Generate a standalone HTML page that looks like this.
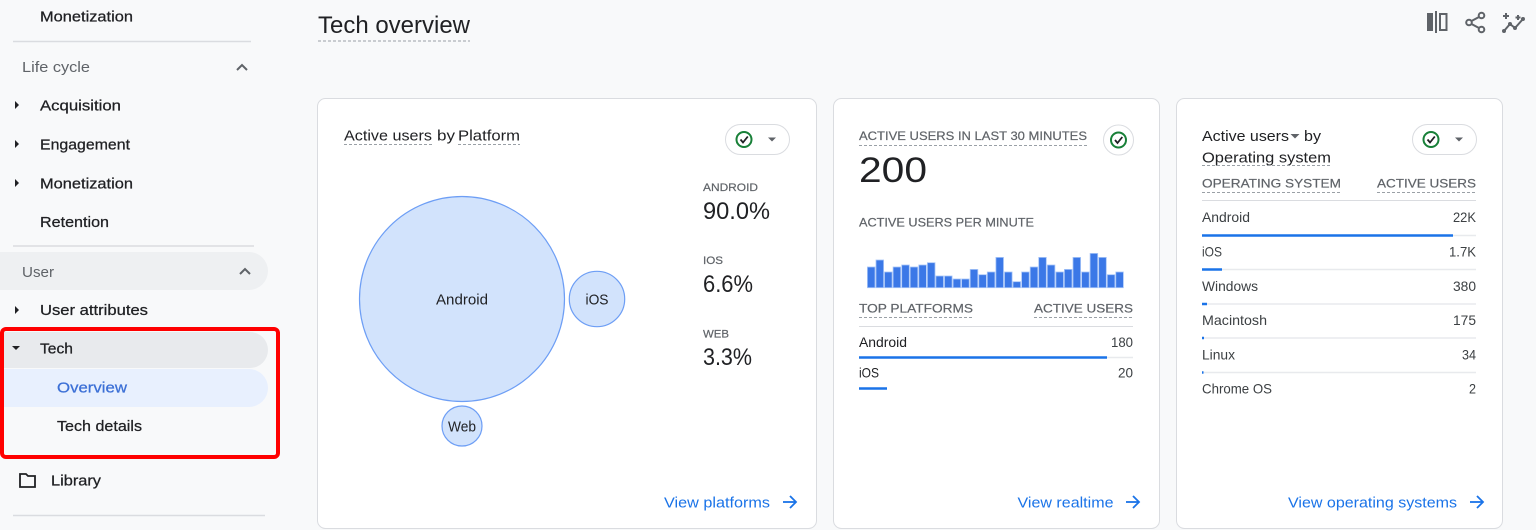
<!DOCTYPE html>
<html><head><meta charset="utf-8"><style>
html,body{margin:0;padding:0;background:#f8f9fa;}
svg{display:block;font-family:"Liberation Sans",Arial,sans-serif;}
.sb{font-size:15px;fill:#202124;stroke:#202124;stroke-width:0.25;}
.gr{fill:#5f6368;stroke:none;}
.cap{font-size:12px;fill:#5f6368;stroke:#5f6368;stroke-width:0.2;}
.dash{stroke:#9aa0a6;stroke-width:1;stroke-dasharray:3 2;fill:none;}
.lnk{font-size:15px;fill:#1a73e8;}
.row{font-size:14px;fill:#3c4043;}
</style></head><body>
<svg width="1536" height="530" viewBox="0 0 1536 530" xmlns="http://www.w3.org/2000/svg">
<rect width="1536" height="530" fill="#f8f9fa"/>

<!-- Sidebar -->
<text class="sb" x="40" y="21.5" textLength="93" lengthAdjust="spacingAndGlyphs">Monetization</text>
<line x1="13" y1="41.5" x2="251" y2="41.5" stroke="#dadce0" stroke-width="1.5"/>
<text class="sb gr" x="22" y="72" textLength="68" lengthAdjust="spacingAndGlyphs" style="stroke:none">Life cycle</text>
<polyline points="237,70 242,65 247,70" fill="none" stroke="#5f6368" stroke-width="2"/>
<polygon points="15,101 19,105 15,109" fill="#202124"/>
<text class="sb" x="40" y="110.5" textLength="81" lengthAdjust="spacingAndGlyphs">Acquisition</text>
<polygon points="15,140 19,144 15,148" fill="#202124"/>
<text class="sb" x="40" y="149.5" textLength="90" lengthAdjust="spacingAndGlyphs">Engagement</text>
<polygon points="15,179 19,183 15,187" fill="#202124"/>
<text class="sb" x="40" y="188.5" textLength="93" lengthAdjust="spacingAndGlyphs">Monetization</text>
<text class="sb" x="40" y="227" textLength="69" lengthAdjust="spacingAndGlyphs">Retention</text>
<line x1="13" y1="246" x2="254" y2="246" stroke="#dadce0" stroke-width="1.5"/>
<path d="M0 252 H249 A19 19 0 0 1 249 290 H0 Z" fill="#eef0f2"/>
<text class="sb gr" x="22" y="277" textLength="32" lengthAdjust="spacingAndGlyphs" style="stroke:none">User</text>
<polyline points="240,274 245,269 250,274" fill="none" stroke="#5f6368" stroke-width="2"/>
<polygon points="15,306 19,310 15,314" fill="#202124"/>
<text class="sb" x="40" y="315" textLength="108" lengthAdjust="spacingAndGlyphs">User attributes</text>
<path d="M0 332 H250 A18 18 0 0 1 250 368 H0 Z" fill="#e8eaed"/>
<polygon points="12,346 20,346 16,350" fill="#202124"/>
<text class="sb" x="40" y="353.5" textLength="33" lengthAdjust="spacingAndGlyphs">Tech</text>
<path d="M0 369 H249 A19 19 0 0 1 249 407 H0 Z" fill="#e8f0fe"/>
<text class="sb" x="57" y="392.5" textLength="70" lengthAdjust="spacingAndGlyphs" style="fill:#3b6fd6;stroke:#3b6fd6">Overview</text>
<text class="sb" x="57" y="431" textLength="85" lengthAdjust="spacingAndGlyphs">Tech details</text>
<rect x="2" y="329" width="276" height="128" rx="4" fill="none" stroke="#ff0000" stroke-width="4"/>
<path d="M20 474 H26 L28 476 H35 V487 H20 Z" fill="none" stroke="#202124" stroke-width="1.8"/>
<text class="sb" x="51" y="485.5" textLength="50" lengthAdjust="spacingAndGlyphs">Library</text>
<line x1="13" y1="515.5" x2="265" y2="515.5" stroke="#dadce0" stroke-width="1.5"/>

<!-- Title -->
<text x="318" y="33" font-size="24" fill="#202124" textLength="152" lengthAdjust="spacingAndGlyphs">Tech overview</text>
<line class="dash" x1="318" y1="41" x2="470" y2="41" stroke-width="2"/>

<!-- Header icons -->
<rect x="1427" y="13" width="6" height="18" fill="#5f6368"/>
<line x1="1436" y1="11" x2="1436" y2="33" stroke="#5f6368" stroke-width="2"/>
<rect x="1440" y="14" width="6.5" height="16" fill="none" stroke="#5f6368" stroke-width="2"/>
<g stroke="#5f6368" stroke-width="2" fill="none">
<circle cx="1481.5" cy="15.5" r="2.8"/><circle cx="1469" cy="22.5" r="2.8"/><circle cx="1481.5" cy="29.5" r="2.8"/>
<line x1="1471.5" y1="21" x2="1479" y2="17"/><line x1="1471.5" y1="24" x2="1479" y2="28"/>
<polyline points="1504,31 1510,24 1515,28 1523,19"/>
<line x1="1506" y1="13" x2="1506" y2="19"/><line x1="1503" y1="16" x2="1509" y2="16"/>
<line x1="1518" y1="15" x2="1518" y2="20"/><line x1="1515.5" y1="17.5" x2="1520.5" y2="17.5"/>
</g>
<g fill="#5f6368"><circle cx="1504" cy="31" r="2"/><circle cx="1510" cy="24" r="2"/><circle cx="1515" cy="28" r="2"/><circle cx="1523" cy="19" r="2"/></g>

<!-- Cards -->
<rect x="317.5" y="98.5" width="499" height="430" rx="8" fill="#fff" stroke="#dadce0"/>
<rect x="833.5" y="98.5" width="326" height="430" rx="8" fill="#fff" stroke="#dadce0"/>
<rect x="1176.5" y="98.5" width="326" height="430" rx="8" fill="#fff" stroke="#dadce0"/>

<!-- Card 1 -->
<text x="344" y="140.5" font-size="15" fill="#202124" textLength="88" lengthAdjust="spacingAndGlyphs">Active users</text>
<text x="437" y="140.5" font-size="15" fill="#202124" textLength="18" lengthAdjust="spacingAndGlyphs">by</text>
<text x="458" y="140.5" font-size="15" fill="#202124" textLength="62" lengthAdjust="spacingAndGlyphs">Platform</text>
<line class="dash" x1="344" y1="144.5" x2="432" y2="144.5"/>
<line class="dash" x1="458" y1="144.5" x2="520" y2="144.5"/>
<rect x="725.5" y="124.5" width="64" height="30" rx="15" fill="#fff" stroke="#dadce0"/>
<circle cx="744" cy="139.5" r="7.5" fill="none" stroke="#188038" stroke-width="2"/>
<polyline points="740.5,139.5 743,142.5 747.8,136.5" fill="none" stroke="#202124" stroke-width="1.8"/>
<polygon points="768,137.5 776,137.5 772,141.5" fill="#5f6368"/>

<circle cx="462" cy="299" r="102.5" fill="#d2e3fc" stroke="#6d9ef5" stroke-width="1.2"/>
<circle cx="597" cy="299" r="27.7" fill="#d2e3fc" stroke="#6d9ef5" stroke-width="1.2"/>
<circle cx="462" cy="426" r="20" fill="#d2e3fc" stroke="#6d9ef5" stroke-width="1.2"/>
<text x="462" y="304.5" font-size="15" fill="#202124" text-anchor="middle" textLength="52" lengthAdjust="spacingAndGlyphs">Android</text>
<text x="597" y="304.5" font-size="15" fill="#202124" text-anchor="middle" textLength="23" lengthAdjust="spacingAndGlyphs">iOS</text>
<text x="462" y="431.5" font-size="15" fill="#202124" text-anchor="middle" textLength="28" lengthAdjust="spacingAndGlyphs">Web</text>

<text class="cap" x="703" y="191" textLength="55" lengthAdjust="spacingAndGlyphs" style="font-size:11px">ANDROID</text>
<text x="703" y="219" font-size="24" fill="#202124" textLength="67" lengthAdjust="spacingAndGlyphs">90.0%</text>
<text class="cap" x="703" y="264" textLength="20" lengthAdjust="spacingAndGlyphs" style="font-size:11px">IOS</text>
<text x="703" y="292" font-size="24" fill="#202124" textLength="50" lengthAdjust="spacingAndGlyphs">6.6%</text>
<text class="cap" x="703" y="337.5" textLength="26" lengthAdjust="spacingAndGlyphs" style="font-size:11px">WEB</text>
<text x="703" y="365" font-size="24" fill="#202124" textLength="49" lengthAdjust="spacingAndGlyphs">3.3%</text>

<text class="lnk" x="664" y="507.5" textLength="106" lengthAdjust="spacingAndGlyphs">View platforms</text>
<g stroke="#1a73e8" stroke-width="1.8" fill="none"><line x1="783" y1="502" x2="796" y2="502"/><polyline points="790,496 796,502 790,508"/></g>

<!-- Card 2 -->
<text class="cap" x="859" y="140" textLength="228" lengthAdjust="spacingAndGlyphs">ACTIVE USERS IN LAST 30 MINUTES</text>
<line class="dash" x1="859" y1="145.5" x2="1087" y2="145.5"/>
<circle cx="1118.5" cy="140" r="15" fill="#fff" stroke="#dadce0"/>
<circle cx="1118.5" cy="140" r="7.5" fill="none" stroke="#188038" stroke-width="2"/>
<polyline points="1115,140 1117.5,143 1122.3,137" fill="none" stroke="#202124" stroke-width="1.8"/>
<text x="859" y="182" font-size="35" fill="#202124" textLength="68" lengthAdjust="spacingAndGlyphs">200</text>
<text class="cap" x="859" y="226.5" textLength="175" lengthAdjust="spacingAndGlyphs">ACTIVE USERS PER MINUTE</text>
<g fill="#3b78e7" stroke="#a9c6f8" stroke-width="0.8">
<rect x="867.4" y="267" width="7.6" height="20.7"/>
<rect x="876.0" y="260" width="7.6" height="27.7"/>
<rect x="884.5" y="272" width="7.6" height="15.7"/>
<rect x="893.1" y="267" width="7.6" height="20.7"/>
<rect x="901.7" y="265" width="7.6" height="22.7"/>
<rect x="910.2" y="267" width="7.6" height="20.7"/>
<rect x="918.8" y="265" width="7.6" height="22.7"/>
<rect x="927.4" y="262.7" width="7.6" height="25"/>
<rect x="935.9" y="276" width="7.6" height="11.7"/>
<rect x="944.5" y="276" width="7.6" height="11.7"/>
<rect x="953.1" y="279" width="7.6" height="8.7"/>
<rect x="961.6" y="279" width="7.6" height="8.7"/>
<rect x="970.2" y="269.4" width="7.6" height="18.3"/>
<rect x="978.8" y="274.7" width="7.6" height="13"/>
<rect x="987.3" y="272" width="7.6" height="15.7"/>
<rect x="995.9" y="257.4" width="7.6" height="30.3"/>
<rect x="1004.5" y="272" width="7.6" height="15.7"/>
<rect x="1013.0" y="281.7" width="7.6" height="6"/>
<rect x="1021.6" y="272" width="7.6" height="15.7"/>
<rect x="1030.2" y="267" width="7.6" height="20.7"/>
<rect x="1038.7" y="257.4" width="7.6" height="30.3"/>
<rect x="1047.3" y="265" width="7.6" height="22.7"/>
<rect x="1055.9" y="272" width="7.6" height="15.7"/>
<rect x="1064.4" y="269.4" width="7.6" height="18.3"/>
<rect x="1073.0" y="257.4" width="7.6" height="30.3"/>
<rect x="1081.6" y="272" width="7.6" height="15.7"/>
<rect x="1090.1" y="253.4" width="7.6" height="34.3"/>
<rect x="1098.7" y="257.4" width="7.6" height="30.3"/>
<rect x="1107.3" y="274.7" width="7.6" height="13"/>
<rect x="1115.8" y="272" width="7.6" height="15.7"/>
</g>
<text class="cap" x="859" y="312.5" textLength="114" lengthAdjust="spacingAndGlyphs">TOP PLATFORMS</text>
<text class="cap" x="1133" y="312.5" text-anchor="end" textLength="99" lengthAdjust="spacingAndGlyphs">ACTIVE USERS</text>
<line class="dash" x1="859" y1="317.5" x2="973" y2="317.5"/>
<line class="dash" x1="1034" y1="317.5" x2="1133" y2="317.5"/>
<line x1="859" y1="326.5" x2="1133" y2="326.5" stroke="#dadce0"/>
<text class="row" x="859" y="347" textLength="48" lengthAdjust="spacingAndGlyphs" style="fill:#202124">Android</text>
<text class="row" x="1133" y="347" text-anchor="end" textLength="22" lengthAdjust="spacingAndGlyphs">180</text>
<line x1="859" y1="357.5" x2="1133" y2="357.5" stroke="#e8eaed" stroke-width="1.5"/>
<line x1="859" y1="357.5" x2="1107" y2="357.5" stroke="#1a73e8" stroke-width="2.5"/>
<text class="row" x="859" y="377.5" textLength="20" lengthAdjust="spacingAndGlyphs" style="fill:#202124">iOS</text>
<text class="row" x="1133" y="377.5" text-anchor="end" textLength="15" lengthAdjust="spacingAndGlyphs">20</text>
<line x1="859" y1="388.5" x2="887" y2="388.5" stroke="#1a73e8" stroke-width="2.5"/>
<text class="lnk" x="1017.5" y="507.5" textLength="96" lengthAdjust="spacingAndGlyphs">View realtime</text>
<g stroke="#1a73e8" stroke-width="1.8" fill="none"><line x1="1126" y1="502" x2="1139" y2="502"/><polyline points="1133,496 1139,502 1133,508"/></g>

<!-- Card 3 -->
<text x="1202" y="141" font-size="15" fill="#202124" textLength="87" lengthAdjust="spacingAndGlyphs">Active users</text>
<polygon points="1290.5,134 1299.5,134 1295,138.5" fill="#5f6368"/>
<text x="1304" y="141" font-size="15" fill="#202124" textLength="17" lengthAdjust="spacingAndGlyphs">by</text>
<text x="1202" y="162.5" font-size="15" fill="#202124" textLength="129" lengthAdjust="spacingAndGlyphs">Operating system</text>
<line class="dash" x1="1202" y1="165.5" x2="1331" y2="165.5"/>
<rect x="1412.5" y="124.5" width="64" height="30" rx="15" fill="#fff" stroke="#dadce0"/>
<circle cx="1431" cy="139.5" r="7.5" fill="none" stroke="#188038" stroke-width="2"/>
<polyline points="1427.5,139.5 1430,142.5 1434.8,136.5" fill="none" stroke="#202124" stroke-width="1.8"/>
<polygon points="1455,137.5 1463,137.5 1459,141.5" fill="#5f6368"/>
<text class="cap" x="1202" y="187.5" textLength="139" lengthAdjust="spacingAndGlyphs">OPERATING SYSTEM</text>
<text class="cap" x="1476" y="187.5" text-anchor="end" textLength="99" lengthAdjust="spacingAndGlyphs">ACTIVE USERS</text>
<line class="dash" x1="1202" y1="192.5" x2="1341" y2="192.5"/>
<line class="dash" x1="1377" y1="192.5" x2="1476" y2="192.5"/>
<line x1="1202" y1="200.5" x2="1476" y2="200.5" stroke="#dadce0"/>

<text class="row" x="1202" y="222" textLength="48" lengthAdjust="spacingAndGlyphs">Android</text>
<text class="row" x="1476" y="222" text-anchor="end" textLength="23" lengthAdjust="spacingAndGlyphs">22K</text>
<line x1="1202" y1="235.5" x2="1476" y2="235.5" stroke="#e8eaed" stroke-width="1.5"/>
<line x1="1202" y1="235.5" x2="1453" y2="235.5" stroke="#1a73e8" stroke-width="2.5"/>

<text class="row" x="1202" y="256.5" textLength="20" lengthAdjust="spacingAndGlyphs">iOS</text>
<text class="row" x="1476" y="256.5" text-anchor="end" textLength="27" lengthAdjust="spacingAndGlyphs">1.7K</text>
<line x1="1202" y1="269.5" x2="1476" y2="269.5" stroke="#e8eaed" stroke-width="1.5"/>
<line x1="1202" y1="269.5" x2="1222" y2="269.5" stroke="#1a73e8" stroke-width="2.5"/>

<text class="row" x="1202" y="291" textLength="56" lengthAdjust="spacingAndGlyphs">Windows</text>
<text class="row" x="1476" y="291" text-anchor="end" textLength="23" lengthAdjust="spacingAndGlyphs">380</text>
<line x1="1202" y1="304" x2="1476" y2="304" stroke="#e8eaed" stroke-width="1.5"/>
<line x1="1202" y1="304" x2="1207" y2="304" stroke="#1a73e8" stroke-width="2.5"/>

<text class="row" x="1202" y="325" textLength="65" lengthAdjust="spacingAndGlyphs">Macintosh</text>
<text class="row" x="1476" y="325" text-anchor="end" textLength="23" lengthAdjust="spacingAndGlyphs">175</text>
<line x1="1202" y1="338" x2="1476" y2="338" stroke="#e8eaed" stroke-width="1.5"/>
<line x1="1202" y1="338" x2="1204" y2="338" stroke="#1a73e8" stroke-width="2.5"/>

<text class="row" x="1202" y="359.5" textLength="33" lengthAdjust="spacingAndGlyphs">Linux</text>
<text class="row" x="1476" y="359.5" text-anchor="end" textLength="14" lengthAdjust="spacingAndGlyphs">34</text>
<line x1="1202" y1="372.5" x2="1476" y2="372.5" stroke="#e8eaed" stroke-width="1.5"/>
<line x1="1202" y1="372.5" x2="1203.5" y2="372.5" stroke="#1a73e8" stroke-width="2.5"/>

<text class="row" x="1202" y="393.5" textLength="70" lengthAdjust="spacingAndGlyphs">Chrome OS</text>
<text class="row" x="1476" y="393.5" text-anchor="end" textLength="7" lengthAdjust="spacingAndGlyphs">2</text>

<text class="lnk" x="1288" y="507.5" textLength="169" lengthAdjust="spacingAndGlyphs">View operating systems</text>
<g stroke="#1a73e8" stroke-width="1.8" fill="none"><line x1="1470" y1="502" x2="1483" y2="502"/><polyline points="1477,496 1483,502 1477,508"/></g>
</svg>
</body></html>
